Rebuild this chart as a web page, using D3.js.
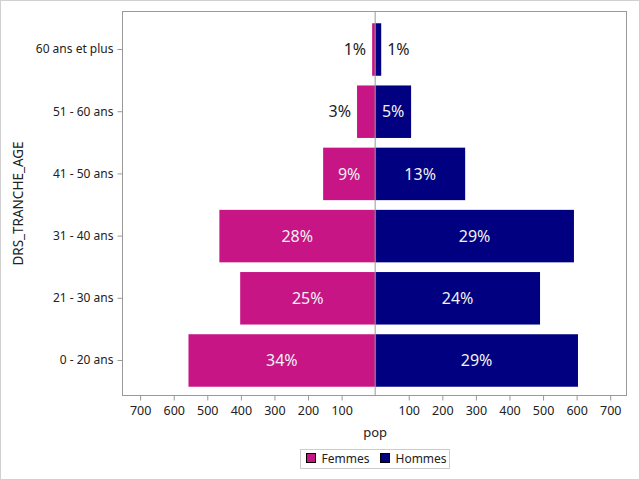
<!DOCTYPE html>
<html>
<head>
<meta charset="utf-8">
<script src="https://cdn.jsdelivr.net/npm/d3@7"></script>
<style>
  body { margin: 0; background: #fff; }
  svg { display: block; font-family: "Noto Sans", sans-serif; }
</style>
</head>
<body>
<div id="chart"></div>
<script>
// age groups, top to bottom
const ageGroups = ["60 ans et plus", "51 - 60 ans", "41 - 50 ans", "31 - 40 ans", "21 - 30 ans", "0 - 20 ans"];
const femmes = [9, 54, 155, 464, 402, 556];
const hommes = [18, 107, 268, 592, 491, 604];
const femmesPct = ["1%", "3%", "9%", "28%", "25%", "34%"];
const hommesPct = ["1%", "5%", "13%", "29%", "24%", "29%"];
const xTicks = [-700, -600, -500, -400, -300, -200, -100, 100, 200, 300, 400, 500, 600, 700];

const W = 640, H = 480;
const plot = { left: 122, right: 627, top: 11, bottom: 396 };

const svg = d3.select("#chart").append("svg")
  .attr("width", W).attr("height", H);

// outer frame
svg.append("rect")
  .attr("x", 0.5).attr("y", 0.5)
  .attr("width", W - 1).attr("height", H - 1)
  .attr("fill", "#fff").attr("stroke", "#d0d0d0");

const x = d3.scaleLinear().domain([-754, 750]).range([plot.left, plot.right]);
const y = d3.scaleBand().domain(ageGroups)
  .range([13.5, 396.5])
  .paddingInner(0.156)
  .paddingOuter(0.157);

const rows = ageGroups.map((g, i) => ({
  group: g, f: femmes[i], h: hommes[i], fp: femmesPct[i], hp: hommesPct[i]
}));

// bars
const bars = svg.append("g");
bars.selectAll(".bar-f").data(rows).join("rect")
  .attr("class", "bar-f")
  .attr("x", d => x(-d.f))
  .attr("width", d => x(0) - x(-d.f))
  .attr("y", d => y(d.group))
  .attr("height", y.bandwidth())
  .attr("fill", "#C71585");

bars.selectAll(".bar-h").data(rows).join("rect")
  .attr("class", "bar-h")
  .attr("x", x(0))
  .attr("width", d => x(d.h) - x(0))
  .attr("y", d => y(d.group))
  .attr("height", y.bandwidth())
  .attr("fill", "#000080");

// zero line
svg.append("line")
  .attr("x1", x(0)).attr("x2", x(0))
  .attr("y1", plot.top).attr("y2", plot.bottom)
  .attr("stroke", "#999");

// percent labels: inside the bar if it fits, else outside
const labelFits = (w) => w > 30;
const labels = svg.append("g").attr("font-size", 16);
rows.forEach(d => {
  const cy = y(d.group) + y.bandwidth() / 2;
  const wf = x(0) - x(-d.f);
  const fin = labelFits(wf);
  labels.append("text")
    .attr("x", fin ? x(-d.f / 2) : x(-d.f) - 6)
    .attr("y", cy)
    .attr("dy", "0.35em")
    .attr("text-anchor", fin ? "middle" : "end")
    .attr("fill", fin ? "#f2f2f2" : "#222")
    .text(d.fp);
  const wh = x(d.h) - x(0);
  const hin = labelFits(wh);
  labels.append("text")
    .attr("x", hin ? x(d.h / 2) : x(d.h) + 6)
    .attr("y", cy)
    .attr("dy", "0.35em")
    .attr("text-anchor", hin ? "middle" : "start")
    .attr("fill", hin ? "#f2f2f2" : "#222")
    .text(d.hp);
});

// plot frame
svg.append("rect")
  .attr("x", plot.left + 0.5).attr("y", plot.top + 0.5)
  .attr("width", plot.right - plot.left - 1)
  .attr("height", plot.bottom - plot.top - 1)
  .attr("fill", "none").attr("stroke", "#999");

// x axis
const xAxis = svg.append("g")
  .attr("transform", `translate(0,${plot.bottom - 0.5})`)
  .call(d3.axisBottom(x).tickValues(xTicks).tickSize(5).tickSizeOuter(0)
    .tickFormat(v => Math.abs(v)));
xAxis.select(".domain").remove();
xAxis.selectAll("line").attr("stroke", "#999");
xAxis.selectAll("text").attr("font-size", 12.5).attr("fill", "#222")
  .attr("font-family", "Noto Sans").attr("dy", "0.95em");

svg.append("text")
  .attr("x", x(0)).attr("y", 437)
  .attr("text-anchor", "middle")
  .attr("font-size", 13).attr("fill", "#222")
  .text("pop");

// y axis
const yAxis = svg.append("g")
  .attr("transform", `translate(${plot.left + 0.5},0)`)
  .call(d3.axisLeft(y).tickSize(5).tickSizeOuter(0).tickPadding(4));
yAxis.select(".domain").remove();
yAxis.selectAll("line").attr("stroke", "#999");
yAxis.selectAll("text").attr("font-size", 12).attr("fill", "#222")
  .attr("font-family", "Noto Sans");

svg.append("text")
  .attr("transform", `translate(23,${(plot.top + plot.bottom) / 2}) rotate(-90)`)
  .attr("text-anchor", "middle")
  .attr("font-size", 13.5).attr("fill", "#222")
  .text("DRS_TRANCHE_AGE");

// legend
const legendItems = [
  { name: "Femmes", color: "#C71585", x: 306.5 },
  { name: "Hommes", color: "#000080", x: 380.5 }
];
const legend = svg.append("g");
legend.append("rect")
  .attr("x", 300.5).attr("y", 449.5).attr("width", 149).attr("height", 19)
  .attr("fill", "#fff").attr("stroke", "#ccc");
legendItems.forEach(it => {
  legend.append("rect")
    .attr("x", it.x).attr("y", 453.5).attr("width", 9).attr("height", 9)
    .attr("fill", it.color).attr("stroke", "#000");
  legend.append("text")
    .attr("x", it.x + 15).attr("y", 458.5).attr("dy", "0.35em")
    .attr("font-size", 12).attr("fill", "#222")
    .text(it.name);
});
</script>
</body>
</html>
